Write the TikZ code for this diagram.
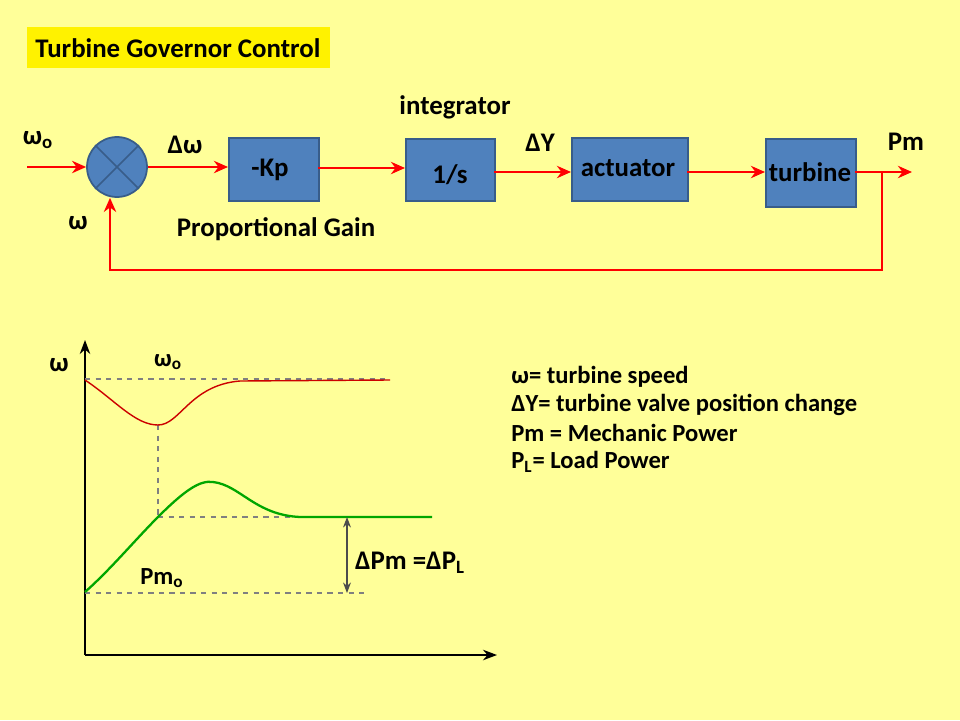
\documentclass[tikz,border=0pt]{standalone}
\usepackage{fontspec}
\setmainfont{Carlito}
\usetikzlibrary{arrows.meta}
\definecolor{bg}{HTML}{FFFF99}
\definecolor{blk}{HTML}{4F81BD}
\definecolor{blkb}{HTML}{385D8A}
\tikzset{
 blockbox/.style={draw=blkb,fill=blk,line width=1pt,minimum width=#1},
 sig/.style={draw=red,line width=1.5pt,-{Stealth[length=8pt,width=7pt]}},
 lbl/.style={font=\bfseries\fontsize{15.3}{17}\selectfont,inner sep=0pt},
 lbls/.style={font=\bfseries\fontsize{14}{16}\selectfont,inner sep=0pt},
 dsh/.style={draw=gray,dashed,line width=0.8pt},
}
\begin{document}
\begin{tikzpicture}[x=0.02cm,y=-0.02cm]
\fill[bg] (0,0) rectangle (960,720);
\node[fill=yellow,minimum width=6.06cm,minimum height=0.82cm,anchor=north west,inner sep=0pt] (title) at (27,27) {};
\node[lbl,anchor=west] at (35,48) {Turbine Governor Control};
% blocks
\node[blockbox, minimum width=1.8cm, minimum height=1.26cm,anchor=north west] (kp) at (228,137) {};
\node[lbl] at (270,170) {-Kp};
\node[blockbox, minimum width=1.78cm, minimum height=1.24cm,anchor=north west] (int) at (405,138) {};
\node[lbl] at (450,175) {1/s};
\node[blockbox, minimum width=2.32cm, minimum height=1.26cm,anchor=north west] (act) at (571,137) {};
\node[lbl] at (628,168) {actuator};
\node[blockbox, minimum width=1.8cm, minimum height=1.36cm,anchor=north west] (tur) at (765,138) {};
\node[lbl] at (810,172) {turbine};
\node[circle,draw=blkb,fill=blk,line width=1pt,minimum size=1.2cm,inner sep=0pt] (sum) at (117,167) {};
\draw[blkb,line width=1pt] (sum.north west) -- (sum.south east) (sum.north east) -- (sum.south west);
\coordinate (in) at (27,167);
\coordinate (out) at (912,172);
\coordinate (tap) at (882,172);
\coordinate (c1) at (882,270);
\coordinate (c2) at (110,270);
\draw[sig] (in) -- (sum.west);
\draw[sig] (sum.east) -- (kp.west|-sum.east);
\draw[sig] (318,168) -- (int.west|-0,168);
\draw[sig] (494,172) -- (act.west|-0,172);
\draw[sig] (687,172) -- (tur.west|-0,172);
\draw[sig] (855,172) -- (out);
\draw[sig] (tap) -- (c1) -- (c2) -- (c2|-sum.south);
% labels
\node[lbl] at (38,140) {ω\textsubscript{o}};
\node[lbl] at (185,145) {Δω};
\node[lbl] at (455,107) {integrator};
\node[lbl] at (540,143) {ΔY};
\node[lbl] at (906,142) {Pm};
\node[lbl] at (78,223) {ω};
\node[lbl] at (276,229) {Proportional Gain};
% graph
\coordinate (o) at (85,655);
\coordinate (ytop) at (85,340);
\coordinate (xend) at (497,655);
\draw[line width=0.8pt,-{Stealth[length=8pt]}] (o) -- (ytop);
\draw[line width=0.8pt,-{Stealth[length=8pt]}] (o) -- (xend);
\node[lbl] at (59,365) {ω};
\node[lbls] at (168,362) {ω\textsubscript{o}};
\draw[dsh] (85,379) -- (390,379);
\draw[dsh] (158,425) -- (158,517);
\draw[dsh] (158,517) -- (300,517);
\draw[dsh] (85,593) -- (365,593);
\draw[red!80!black,line width=0.8pt] (85,380) .. controls (115,400) and (135,425) .. (158,425) .. controls (180,425) and (190,385) .. (240,381) -- (390,380);
\draw[green!65!black,line width=1.3pt] (85,592) .. controls (110,570) and (135,540) .. (158,517) .. controls (185,490) and (200,480) .. (213,482) .. controls (240,485) and (255,515) .. (300,517) -- (432,517);
\coordinate (da) at (347,517);
\coordinate (db) at (347,593);
\draw[gray!60!black,line width=0.6pt,{Stealth[length=6pt]}-{Stealth[length=6pt]}] (da) -- (db);
\node[lbl] at (410,563) {ΔPm =ΔP\textsubscript{L}};
\node[lbls] at (162,578) {Pm\textsubscript{o}};
% legend
\begin{scope}[every node/.style={lbls,anchor=west}]
\node at (511,377) {ω= turbine speed};
\node at (511,405) {ΔY= turbine valve position change};
\node at (511,433) {Pm = Mechanic Power};
\node at (511,462) {P\textsubscript{L}= Load Power};
\end{scope}
\end{tikzpicture}
\end{document}
